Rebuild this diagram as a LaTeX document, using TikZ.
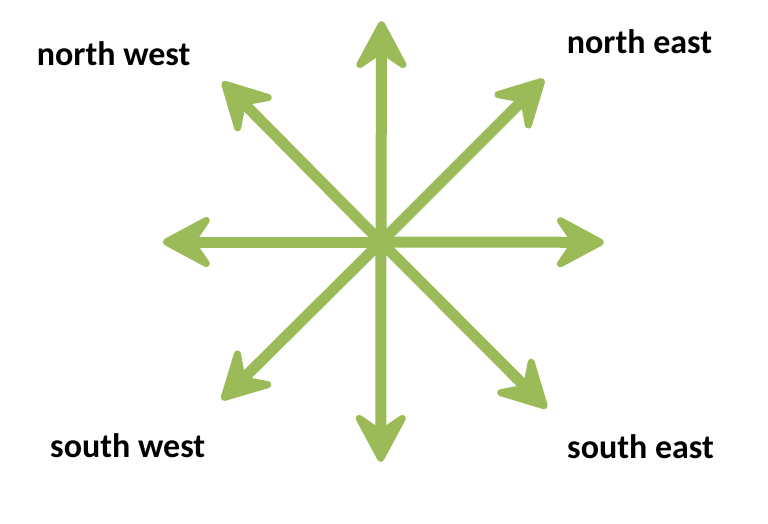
\documentclass[tikz,border=0pt]{standalone}
\usepackage{fontspec}
\setmainfont{Carlito}
\usetikzlibrary{arrows.meta}
\definecolor{arrowgreen}{HTML}{9BBB59}
\tikzset{
  dirarrow/.style={draw=arrowgreen, line width=11pt,
    -{Stealth[length=58pt, width=62pt, inset=21pt, round, line width=7pt]}},
  dirlabel/.style={font=\fontsize{34}{40}\selectfont\bfseries, inner sep=0pt, anchor=base west, text=black}
}
\begin{document}
\begin{tikzpicture}[x=1pt, y=-1pt]
  \useasboundingbox[fill=white] (0,0) rectangle (768,523);
  \coordinate (c) at (381,242);
  \coordinate (n) at (381.5,21);
  \coordinate (s) at (380.7,462);
  \coordinate (w) at (162.7,242);
  \coordinate (e) at (604,242.3);
  \coordinate (nw) at (222.3,81.7);
  \coordinate (ne) at (544,79);
  \coordinate (sw) at (221.7,400);
  \coordinate (se) at (546.7,408.3);
  \foreach \t in {n,s,w,e,nw,ne,sw,se} {
    \draw[dirarrow] (c) -- (\t);
  }
  \node[dirlabel] (lnw) at (36.7,65) {north west};
  \node[dirlabel] (lne) at (566.7,53.3) {north east};
  \node[dirlabel] (lsw) at (50,457) {south west};
  \node[dirlabel] (lse) at (567,458) {south east};
\end{tikzpicture}
\end{document}
